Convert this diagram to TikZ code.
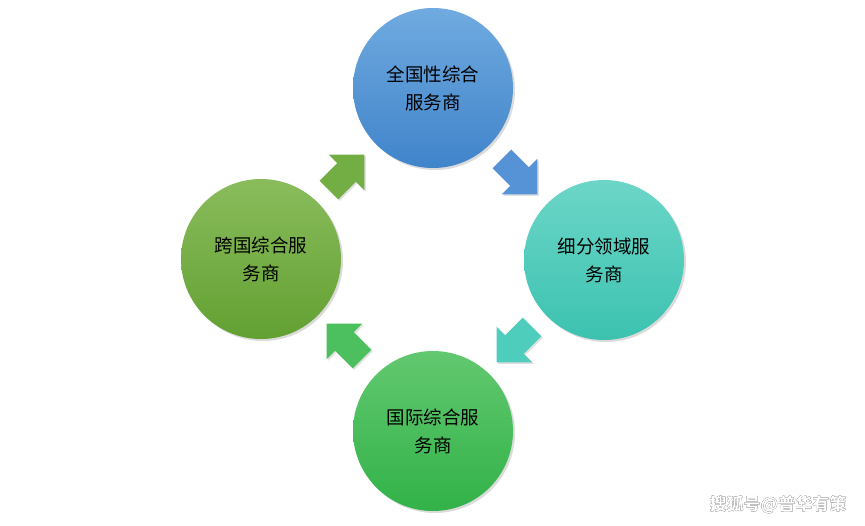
\documentclass[tikz,border=0pt]{standalone}
\usepackage{fontspec}
\newfontfamily\cjk{Noto Sans CJK SC}
\usepackage[outline]{contour}
\contourlength{0.08em}
\usetikzlibrary{shapes.arrows, shadows}
\usepackage{xcolor}
\definecolor{natblue}{RGB}{85,147,214}
\definecolor{natbluetop}{RGB}{112,170,224}
\definecolor{natbluebot}{RGB}{64,132,202}
\definecolor{segteal}{RGB}{78,205,188}
\definecolor{segtealtop}{RGB}{108,214,200}
\definecolor{segtealbot}{RGB}{60,194,176}
\definecolor{intlgreen}{RGB}{76,191,94}
\definecolor{intlgreentop}{RGB}{98,200,112}
\definecolor{intlgreenbot}{RGB}{50,178,72}
\definecolor{crossgreen}{RGB}{114,174,67}
\definecolor{crossgreentop}{RGB}{138,188,92}
\definecolor{crossgreenbot}{RGB}{98,160,50}
\tikzset{bignode/.style={circle, minimum size=160pt, inner sep=0pt, align=center,
  font=\cjk\fontsize{18.5}{28}\selectfont,
  drop shadow={fill=black!40, opacity=0.35, shadow xshift=2pt, shadow yshift=-2pt}},
cyclearrow/.style={single arrow, minimum height=50pt, inner xsep=0pt, inner ysep=13pt,
  single arrow head extend=12pt, single arrow tip angle=90,
  drop shadow={fill=black!40, opacity=0.3, shadow xshift=1.5pt, shadow yshift=-1.5pt}}}

\begin{document}
\begin{tikzpicture}[x=1pt, y=-1pt]
    \useasboundingbox[fill=white] (0,0) rectangle (865,525);

    % Circles
    \node[bignode, top color=natbluetop, bottom color=natbluebot] (nat) at (433,88) {全国性综合\\服务商};
    \node[bignode, top color=segtealtop, bottom color=segtealbot] (seg) at (604,260) {细分领域服\\务商};
    \node[bignode, top color=intlgreentop, bottom color=intlgreenbot] (intl) at (433,431) {国际综合服\\务商};
    \node[bignode, top color=crossgreentop, bottom color=crossgreenbot] (cross) at (261,259) {跨国综合服\\务商};

    % Arrows
    \node[cyclearrow, fill=natblue, rotate=-45] (a1) at (515,172) {};
    \node[cyclearrow, fill=segteal, rotate=-135] (a2) at (519,340) {};
    \node[cyclearrow, fill=intlgreen, rotate=135] (a3) at (349,346) {};
    \node[cyclearrow, fill=crossgreen, rotate=45] (a4) at (342,177) {};

    % Watermark
    \node[font=\cjk\bfseries\fontsize{17}{17}\selectfont, text=white] (mark) at (778,505) {\contour{black}{搜狐号@普华有策}};
\end{tikzpicture}
\end{document}
